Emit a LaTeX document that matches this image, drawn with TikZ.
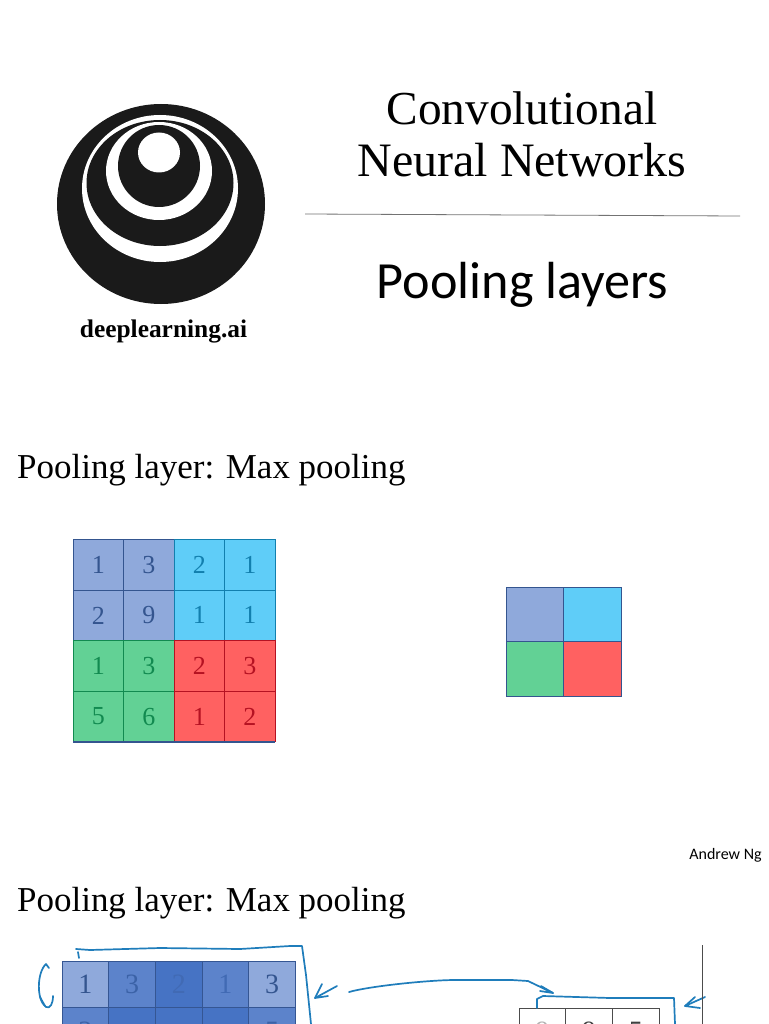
\documentclass[tikz,border=0pt]{standalone}
\usepackage{fontspec}
\setmainfont{Liberation Serif}
\newfontfamily\slidefont{Carlito}
\definecolor{inkblue}{HTML}{1F7DBB}
\definecolor{poolblue}{HTML}{8FA9DB}
\definecolor{poolcyan}{HTML}{5FCDF8}
\definecolor{poolgreen}{HTML}{62D195}
\definecolor{poolred}{HTML}{FF6161}
\definecolor{midblue}{HTML}{5C83CB}
\definecolor{deepblue}{HTML}{4673C4}
\definecolor{logoblack}{HTML}{1A1A1A}
\definecolor{blueline}{HTML}{34558F}
\definecolor{cyanline}{HTML}{127FAE}
\definecolor{greenline}{HTML}{128A50}
\definecolor{redline}{HTML}{B51222}
\tikzset{
    slidetitle/.style={inner sep=0pt, anchor=base},
    slidehead/.style={inner sep=0pt, anchor=base west, font=\fontsize{34.95}{40}\selectfont},
    cell/.style={inner sep=0pt, outer sep=0pt, line width=0.9pt,
        minimum width=50.5pt, minimum height=50.6pt, font=\fontsize{26}{26}\selectfont},
    bluecell/.style={cell, draw=blueline, fill=poolblue, text=blueline},
    cyancell/.style={cell, draw=cyanline, fill=poolcyan, text=cyanline},
    greencell/.style={cell, draw=greenline, fill=poolgreen, text=greenline},
    redcell/.style={cell, draw=redline, fill=poolred, text=redline},
    outcell/.style={draw=blueline, fill=#1, inner sep=0pt, outer sep=0pt, line width=0.9pt,
        minimum width=57.5pt, minimum height=54.5pt},
    slidecell/.style n args={2}{draw=deepblue!75!black, fill=#1, text=#2, inner sep=0pt, outer sep=0pt,
        line width=0.8pt, minimum width=46.7pt, minimum height=46.8pt, font=\fontsize{28}{28}\selectfont},
    plaincell/.style={draw=black!70, text=#1, inner sep=0pt, outer sep=0pt, line width=0.8pt,
        minimum width=46.7pt, minimum height=46.8pt, font=\fontsize{28}{28}\selectfont},
    inkstroke/.style={draw=inkblue, line width=1.7pt, line cap=round, line join=round},
}
\begin{document}
\begin{tikzpicture}[x=1pt, y=-1pt]
    \clip (0,0) rectangle (768,1024);
    \fill[white] (0,0) rectangle (768,1024);
    \fill[logoblack] (161,204) ellipse [x radius=104pt, y radius=100pt];
    \fill[white] (160,188.5) ellipse [x radius=78pt, y radius=73.5pt];
    \fill[logoblack] (160,183) ellipse [x radius=73.5pt, y radius=63pt];
    \fill[white] (159,171) ellipse [x radius=53pt, y radius=49pt];
    \fill[logoblack] (159,166) ellipse [x radius=41pt, y radius=41pt];
    \fill[white] (159,152.5) ellipse [x radius=21pt, y radius=20pt];
    \node[inner sep=0pt, anchor=base, font=\fontsize{25.4}{26}\selectfont\bfseries] (logotext) at (163.5,337) {deeplearning.ai};

    \node[slidetitle, font=\fontsize{47.3}{52}\selectfont] (titleone) at (522,125) {Convolutional};
    \node[slidetitle, font=\fontsize{48}{52}\selectfont] (titletwo) at (522,177) {Neural Networks};
    \draw[black!55, line width=0.8pt] (305,214) -- (740,216);
    \node[inner sep=0pt, anchor=base, font=\slidefont\fontsize{52.2}{54}\selectfont] (subtitle) at (522.5,298) {Pooling layers};

    \node[slidehead] (headone) at (17,478) {Pooling layer: Max pooling};
    \foreach \c/\r/\v/\s in {0/0/1/blue,1/0/3/blue,2/0/2/cyan,3/0/1/cyan,
                             0/1/2/blue,1/1/9/blue,2/1/1/cyan,3/1/1/cyan,
                             0/2/1/green,1/2/3/green,2/2/2/red,3/2/3/red,
                             0/3/5/green,1/3/6/green,2/3/1/red,3/3/2/red} {
        \node[\s cell] (in-\c-\r) at (98.25+\c*50.5, 564.8+\r*50.6) {\v};
    }
    \draw[blueline, line width=1.3pt] (in-0-3.south west) -- (in-3-3.south east);

    \node[outcell=poolblue] (out-0-0) at (534.75,614.25) {};
    \node[outcell=poolcyan] (out-1-0) at (592.25,614.25) {};
    \node[outcell=poolgreen] (out-0-1) at (534.75,668.75) {};
    \node[outcell=poolred] (out-1-1) at (592.25,668.75) {};

    \node[inner sep=0pt, anchor=base, font=\slidefont\fontsize{16}{18}\selectfont] (author) at (725.5,859) {Andrew Ng};
    \node[slidehead] (headtwo) at (17,911) {Pooling layer: Max pooling};

    \foreach \c/\r/\v/\s/\t in {0/0/1/poolblue/blueline,1/0/3/midblue/deepblue!85!black,
                                2/0/2/deepblue/deepblue!92!black,3/0/1/midblue/deepblue!92!black,
                                4/0/3/poolblue/blueline,0/1/2/midblue/deepblue!85!black,
                                1/1/9/deepblue/deepblue,2/1/1/deepblue/deepblue,
                                3/1/1/deepblue/deepblue,4/1/5/midblue/deepblue!85!black} {
        \node[slidecell={\s}{\t}] (big-\c-\r) at (85.35+\c*46.7, 984.4+\r*46.8) {\v};
    }
    \node[plaincell=black!30] (small-0) at (542.35,1031.4) {9};
    \node[plaincell=black!75] (small-1) at (589.05,1031.4) {9};
    \node[plaincell=black!75] (small-2) at (635.75,1031.4) {5};

    \draw[inkstroke] (76,949) -- (90,950) -- (160,948) -- (240,949) -- (290,946) -- (302,946) -- (306,975) -- (311,1024);
    \draw[inkstroke] (78,952) -- (79,958);
    \draw[inkstroke] (49,968) -- (46,964) .. controls (37,972) and (36,1000) .. (46,1007) .. controls (50,1009) and (53,1004) .. (53,996);
    \draw[inkstroke] (40,997) -- (45,1006);
    \draw[inkstroke] (337,986) -- (315,998) -- (328,996);
    \draw[inkstroke] (315,998) -- (322,984);
    \draw[inkstroke] (349,992) .. controls (370,986) and (430,980) .. (455,980)
        -- (512,980) -- (528,981) -- (553,993) -- (540,991);
    \draw[inkstroke] (553,993) -- (541,986);
    \draw[inkstroke] (537,1008) -- (537,999) -- (543,996) -- (610,998) -- (674,998) -- (675,1024);
    \draw[inkstroke] (705,997) -- (685,1006) -- (700,1008);
    \draw[inkstroke] (685,1006) -- (695,997);
    \draw[black!70, line width=0.9pt] (702,945) -- (702,1024);
\end{tikzpicture}
\end{document}
